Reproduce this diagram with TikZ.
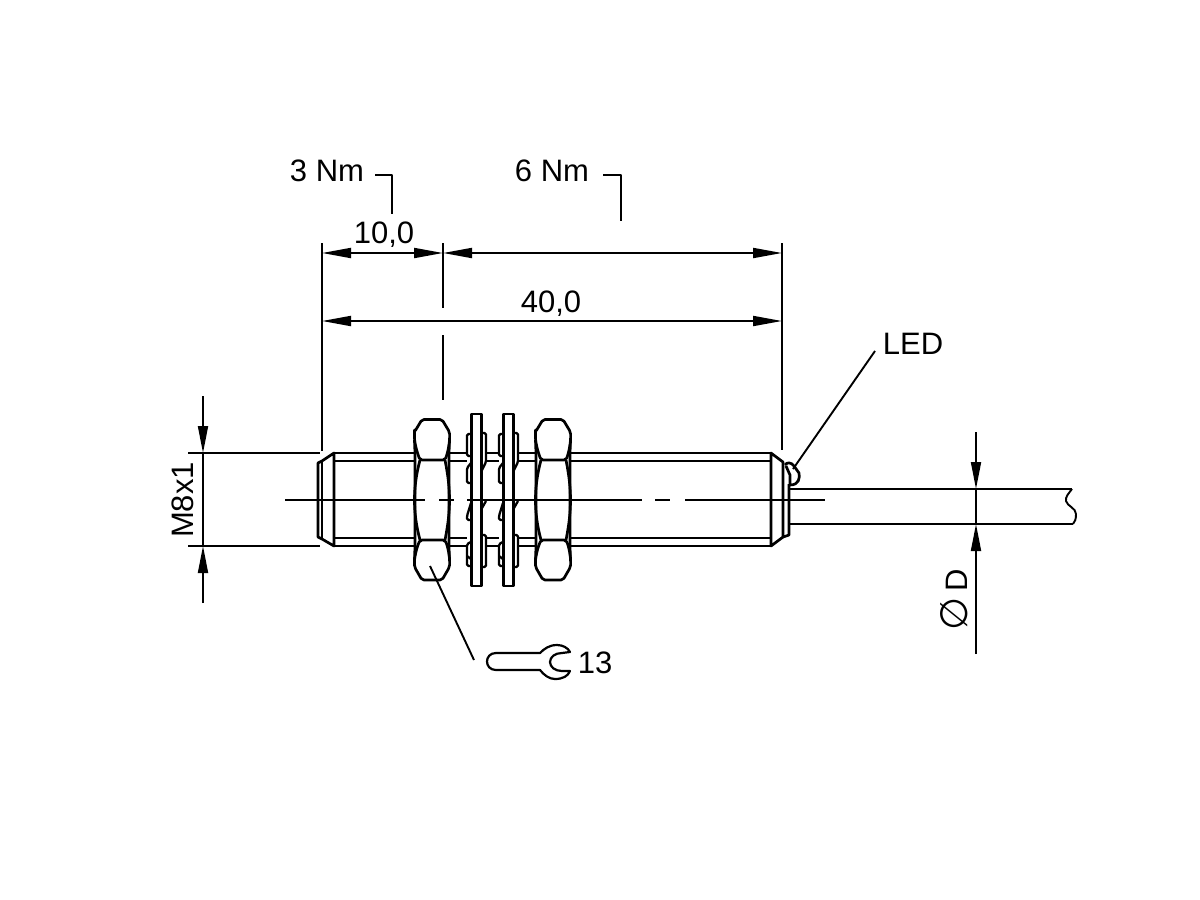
\documentclass[tikz,border=0pt]{standalone}
\usepackage{fontspec}
\setmainfont{Liberation Sans}
\newfontfamily\symfont{DejaVu Sans}
\usetikzlibrary{arrows.meta}
\tikzset{
 ln/.style={line width=1.9pt,line join=round,black},
 thk/.style={line width=2.7pt,line join=round,black},
 tooth/.style={line width=2.3pt,line join=round,rounded corners=1.5pt,black},
 dimar/.style={line width=1.9pt,black,{Triangle[length=29pt,width=10pt]}-{Triangle[length=29pt,width=10pt]}},
 tipend/.style={line width=1.9pt,black,-{Triangle[length=27pt,width=10pt]}},
 lab/.style={font=\fontsize{31}{36}\selectfont,inner sep=0pt,black}
}
\begin{document}
\begin{tikzpicture}[x=1pt,y=-1pt]
\useasboundingbox (0,0) rectangle (1200,900);
\fill[white] (0,0) rectangle (1200,900);
% body
\foreach \a/\b in {334/414,449/467,486/499,518/535,570/771}{
 \draw[thk] (\a,453)--(\b,453) (\a,461)--(\b,461) (\a,538)--(\b,538) (\a,546)--(\b,546);}
\draw[thk] (334,453)--(322,461)--(318,463)--(318,537)--(322,539)--(334,546)--cycle;
\draw[thk] (322,461)--(322,539);
\draw[thk] (771,453)--(783,462)--(783,537)--(771,546)--cycle;
\draw[thk] (783,537)--(789,535)--(789,484);
% cable
\draw[ln] (789,489)--(1072,489) (789,524)--(1073,524);
\draw[ln] (1072,489) .. controls (1069,493) and (1065,497) .. (1066,501) .. controls (1067,506) and (1076,508) .. (1076,514) .. controls (1076,519) and (1075,522) .. (1073,524);
% LED
\draw[thk] (785,465) .. controls (787,462) and (791,462) .. (794,466) -- (799,473) .. controls (800,478) and (799,485) .. (790,485);
\draw[thk] (786,466)--(790,475)--(790,484);
\draw[ln] (793,469)--(875,351);
% nuts
\foreach \d in {0,121}{
\begin{scope}[xshift=\d pt]
 \draw[thk,rounded corners=2pt] (414.5,432)--(422,419.5)--(442,419.5)--(449.5,432) .. controls (450,442) and (448,452) .. (445,460)--(420,460) .. controls (417,452) and (414,442) .. (414.5,432)--cycle;
 \draw[thk,rounded corners=2pt] (414.5,567)--(422,580)--(442,580)--(449.5,567) .. controls (450,557) and (448,547) .. (445,540)--(420,540) .. controls (417,547) and (414,557) .. (414.5,567)--cycle;
 \draw[thk] (420,460) .. controls (416,475) and (414.5,488) .. (414.5,500) .. controls (414.5,512) and (416,525) .. (420,540);
 \draw[thk] (445,460) .. controls (448,475) and (449.5,488) .. (449.5,500) .. controls (449.5,512) and (448,525) .. (445,540);
 % outer silhouette
 \draw[thk] (414.5,440)--(415,453)--(415,547)--(414.5,560);
 \draw[thk] (449.5,440)--(449,453)--(449,547)--(449.5,560);
\end{scope}}
% washers
\foreach \d in {0,32}{
\begin{scope}[xshift=\d pt]
 % upper teeth
 \draw[tooth] (471,434)--(467,434)--(467,456)--(471,456);
 \draw[tooth] (471,463)--(467,468)--(467,483)--(471,483);
 \draw[tooth] (482,433)--(486,433)--(486,462)--(482,470);
 % middle barbs
 \draw[tooth] (471,503)--(467,516)--(467,520)--(471,520);
 \draw[tooth] (482,508)--(486,501);
 % lower teeth
 \draw[tooth] (471,542)--(467,544)--(467,566)--(471,566);
 \draw[tooth] (467,556)--(471,559);
 \draw[tooth] (482,535)--(486,535)--(486,567)--(482,567);
 \fill[white] (471.5,414) rectangle (481.5,586);
 \draw[thk] (471.5,414) rectangle (481.5,586);
\end{scope}}
% centre line
\draw[ln] (285,500)--(425,500) (439,500)--(454,500) (467,500)--(642,500) (655,500)--(670,500) (685,500)--(825,500);
% extension lines
\draw[ln] (322,243)--(322,451) (782,243)--(782,450);
\draw[ln] (443,243)--(443,308) (443,335)--(443,400);
\draw[ln] (188,453)--(320,453) (188,546)--(320,546);
% dimensions
\draw[dimar] (322,253)--(443,253);
\draw[dimar] (443,253)--(782,253);
\draw[dimar] (322,321)--(782,321);
\draw[tipend] (203,396)--(203,453);
\draw[tipend] (203,603)--(203,546);
\draw[line width=1.9pt] (203,453)--(203,546);
\draw[tipend] (976,432)--(976,489);
\draw[tipend] (976,654)--(976,524);
\draw[line width=1.9pt] (976,489)--(976,524);
% torque leaders
\node[lab] (t3) at (327,171) {3 Nm};
\node[lab] (t6) at (552,171) {6 Nm};
\coordinate (a3) at (392,175);
\coordinate (a6) at (621,175);
\draw[ln] (375,175)--(a3)--(392,214);
\draw[ln] (603,175)--(a6)--(621,221);
\node[lab] (d10) at (384,235) {10,0};
\node[lab] (d40) at (551,304) {40,0};
\node[lab] (led) at (913,344) {LED};
\node[lab] (sw) at (595,663) {13};
\node[lab,rotate=90] (m8) at (183,500) {M8x1};
\node[lab,rotate=90] (dd) at (954,600) {{\symfont\fontsize{38}{40}\selectfont ∅}\hspace{6pt}D};
% wrench
\draw[ln] (430,566)--(474,660);
\draw[line width=2.2pt,line join=round] (496,653)--(540,653) .. controls (544,649) and (549,645) .. (557,645) .. controls (563,645) and (568,648) .. (570,652) -- (562,653) .. controls (555,653) and (550,657) .. (550,662) .. controls (550,667) and (555,671) .. (562,671) -- (570,671) .. controls (568,676) and (563,679) .. (555,679) .. controls (549,679) and (544,675) .. (540,670) -- (496,670) .. controls (484,670) and (484,653) .. (496,653) -- cycle;
\end{tikzpicture}
\end{document}
